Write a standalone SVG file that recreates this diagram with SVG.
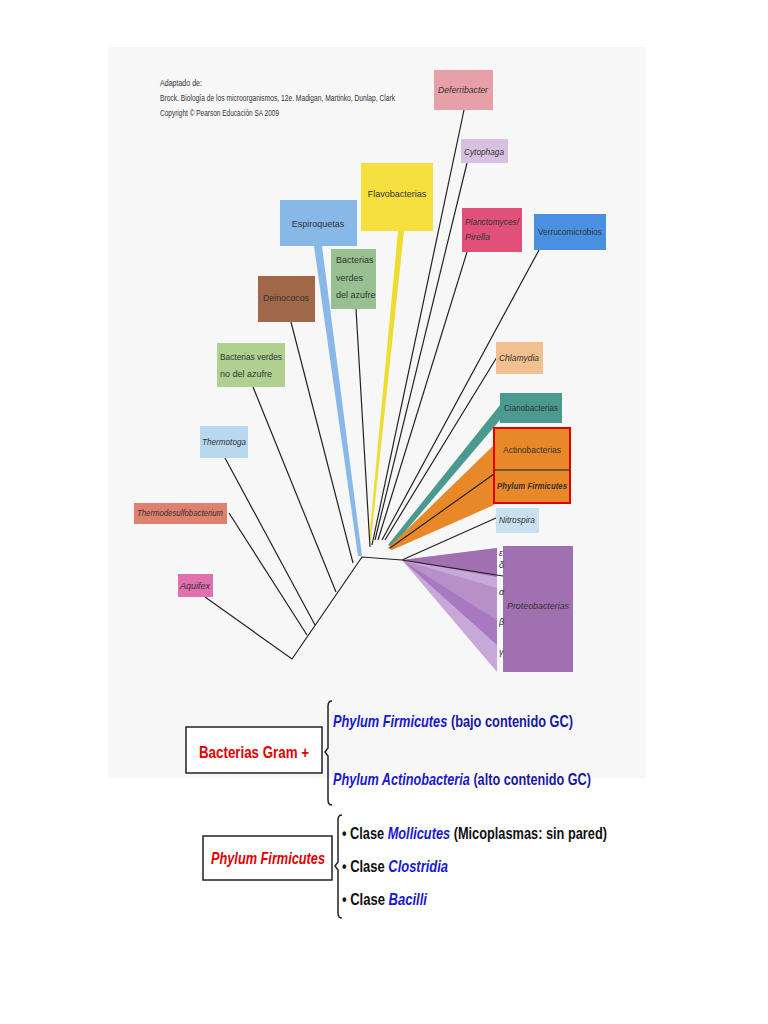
<svg xmlns="http://www.w3.org/2000/svg" width="768" height="1024" viewBox="0 0 768 1024">
<style>
.l{stroke:#222;stroke-width:1.2;fill:none}
.t{font-family:"Liberation Sans",Arial,sans-serif;font-size:9px;fill:#333}
.i{font-style:italic}
.b{font-family:"Liberation Sans",Arial,sans-serif;font-weight:bold;font-size:17px}
.bl{fill:#1818d0;font-style:italic}
.bk{fill:#111}
</style>
<rect x="0" y="0" width="768" height="1024" fill="#fff"/>
<rect x="108" y="47" width="538" height="731" fill="#f7f7f7"/>
<text class="t" x="160" y="86" font-size="8" textLength="42" lengthAdjust="spacingAndGlyphs">Adaptado de:</text>
<text class="t" x="160" y="101" font-size="8" textLength="235" lengthAdjust="spacingAndGlyphs">Brock. Biología de los microorganismos, 12e. Madigan, Martinko, Dunlap, Clark</text>
<text class="t" x="160" y="116" font-size="8" textLength="119" lengthAdjust="spacingAndGlyphs">Copyright © Pearson Educación SA 2009</text>
<g id="connectors">
<polygon points="314,246 322,246 362,556 358,556" fill="#88b8e8"/>
<polygon points="398,231 404,231 371,540 369,540" fill="#f0dc30"/>
<polygon points="500,405 500,420 392,547 388,545" fill="#4a9a90"/>
<polygon points="494,445 494,505 392,550 388,548" fill="#e88828"/>
<polygon points="402,560 497,548 497,672" fill="#c8a8d8"/>
<polygon points="402,560 497,548 497,577" fill="#a070b0"/>
<polygon points="402,560 497,588 497,620" fill="#b890c8"/>
<polygon points="402,560 497,620 497,645" fill="#a878c0"/>
<path class="l" d="M205,597 L292,659 L362,557 L402,560 M229,513 L307,635 M225,458 L315,625 M253,387 L336,592 M291,322 L353,563 M356,309 L370,547 M464,110 L372,545 M467,163 L375,540 M467,252 L378,540 M539,250 L382,540 M497,357 L385,540 M494,474 L390,548 M496,518 L402,560 M402,560 L503,576"/>
</g>
<g id="n-deferribacter"><rect x="434" y="70" width="59" height="40" fill="#e8a0a8"/><text class="t i" x="463" y="93" text-anchor="middle" textLength="50" lengthAdjust="spacingAndGlyphs">Deferribacter</text></g>
<g id="n-cytophaga"><rect x="461" y="139" width="47" height="24" fill="#d8c0e0"/><text class="t i" x="484" y="155" text-anchor="middle" textLength="40" lengthAdjust="spacingAndGlyphs">Cytophaga</text></g>
<g id="n-flavo"><rect x="361" y="163" width="72" height="68" fill="#f5e040"/><text class="t" x="397" y="197" text-anchor="middle">Flavobacterias</text></g>
<g id="n-espiro"><rect x="280" y="200" width="77" height="46" fill="#88b8e8"/><text class="t" x="318" y="227" text-anchor="middle">Espiroquetas</text></g>
<g id="n-plancto"><rect x="462" y="208" width="60" height="44" fill="#e05078"/><text class="t i" x="465" y="225" textLength="54" lengthAdjust="spacingAndGlyphs">Planctomyces/</text><text class="t i" x="465" y="240">Pirella</text></g>
<g id="n-verruco"><rect x="534" y="214" width="72" height="36" fill="#4a90e0"/><text class="t" x="570" y="235" text-anchor="middle" textLength="64" lengthAdjust="spacingAndGlyphs">Verrucomicrobios</text></g>
<g id="n-verdes-azufre"><rect x="331" y="249" width="45" height="60" fill="#98c090"/><text class="t" x="336" y="263">Bacterias</text><text class="t" x="336" y="281">verdes</text><text class="t" x="336" y="298">del azufre</text></g>
<g id="n-deino"><rect x="258" y="276" width="57" height="46" fill="#a06848"/><text class="t" x="286" y="301" text-anchor="middle" textLength="46" lengthAdjust="spacingAndGlyphs">Deinococos</text></g>
<g id="n-no-azufre"><rect x="217" y="343" width="68" height="44" fill="#b0d090"/><text class="t" x="220" y="360" textLength="62" lengthAdjust="spacingAndGlyphs">Bacterias verdes</text><text class="t" x="220" y="377">no del azufre</text></g>
<g id="n-chlamydia"><rect x="496" y="342" width="47" height="32" fill="#f0c090"/><text class="t i" x="519" y="361" text-anchor="middle" textLength="40" lengthAdjust="spacingAndGlyphs">Chlamydia</text></g>
<g id="n-ciano"><rect x="500" y="393" width="62" height="30" fill="#4a9a90"/><text class="t" x="531" y="411" text-anchor="middle" textLength="54" lengthAdjust="spacingAndGlyphs">Cianobacterias</text></g>
<g id="n-actino"><rect x="494" y="428" width="76" height="75" fill="#e88828" stroke="#e00000" stroke-width="2"/><line x1="494" y1="470" x2="570" y2="470" stroke="#444" stroke-width="1.5"/><text class="t" x="532" y="453" text-anchor="middle" textLength="58" lengthAdjust="spacingAndGlyphs">Actinobacterias</text><text class="t i" x="532" y="489" text-anchor="middle" font-weight="bold" fill="#5a3000" textLength="70" lengthAdjust="spacingAndGlyphs">Phylum Firmicutes</text></g>
<g id="n-thermotoga"><rect x="200" y="426" width="48" height="32" fill="#b8d8f0"/><text class="t i" x="224" y="445" text-anchor="middle" textLength="44" lengthAdjust="spacingAndGlyphs">Thermotoga</text></g>
<g id="n-thermodesulfo"><rect x="134" y="503" width="93" height="21" fill="#e08070"/><text class="t i" x="180" y="516" text-anchor="middle" font-size="8" textLength="86" lengthAdjust="spacingAndGlyphs">Thermodesulfobacterium</text></g>
<g id="n-nitrospira"><rect x="496" y="508" width="43" height="25" fill="#c8e0f0"/><text class="t i" x="517" y="523" text-anchor="middle" textLength="36" lengthAdjust="spacingAndGlyphs">Nitrospira</text></g>
<g id="n-aquifex"><rect x="178" y="574" width="35" height="23" fill="#e070b0"/><text class="t i" x="195" y="589" text-anchor="middle">Aquifex</text></g>
<g id="n-proteo"><rect x="503" y="546" width="70" height="126" fill="#a070b0"/><text class="t i" x="538" y="609" text-anchor="middle" textLength="62" lengthAdjust="spacingAndGlyphs">Proteobacterias</text>
<text class="t i" x="499" y="556" font-size="6">ε</text><text class="t i" x="499" y="568" font-size="6">δ</text><text class="t i" x="499" y="595" font-size="6">α</text><text class="t i" x="499" y="625" font-size="6">β</text><text class="t i" x="499" y="655" font-size="6">γ</text></g>
<g id="n-gram"><rect x="186" y="727" width="136" height="46" fill="#fff" stroke="#222" stroke-width="1.5"/><text class="b" x="254" y="758" text-anchor="middle" font-size="20" fill="#e00000" textLength="110" lengthAdjust="spacingAndGlyphs">Bacterias Gram +</text></g>
<path d="M332,701 Q328,701 328,706 L328,748 L325,752 L328,756 L328,800 Q328,805 332,805" fill="none" stroke="#222" stroke-width="1.5"/>
<text class="b" x="333" y="727" textLength="240" lengthAdjust="spacingAndGlyphs"><tspan class="bl">Phylum Firmicutes</tspan><tspan fill="#1818a0"> (bajo contenido GC)</tspan></text>
<text class="b" x="333" y="785" textLength="258" lengthAdjust="spacingAndGlyphs"><tspan class="bl">Phylum Actinobacteria</tspan><tspan fill="#1818a0"> (alto contenido GC)</tspan></text>
<g id="n-firmicutes"><rect x="203" y="836" width="129" height="44" fill="#fff" stroke="#222" stroke-width="1.5"/><text class="b" x="268" y="864" text-anchor="middle" fill="#e00000" font-style="italic" textLength="114" lengthAdjust="spacingAndGlyphs">Phylum Firmicutes</text></g>
<path d="M342,815 Q338,815 338,820 L338,862 L335,866 L338,870 L338,913 Q338,918 342,918" fill="none" stroke="#222" stroke-width="1.5"/>
<text class="b bk" x="342" y="839" textLength="265" lengthAdjust="spacingAndGlyphs">• Clase <tspan class="bl">Mollicutes</tspan> (Micoplasmas: sin pared)</text>
<text class="b bk" x="342" y="872" textLength="106" lengthAdjust="spacingAndGlyphs">• Clase <tspan class="bl">Clostridia</tspan></text>
<text class="b bk" x="342" y="905" textLength="85" lengthAdjust="spacingAndGlyphs">• Clase <tspan class="bl">Bacilli</tspan></text>
</svg>
